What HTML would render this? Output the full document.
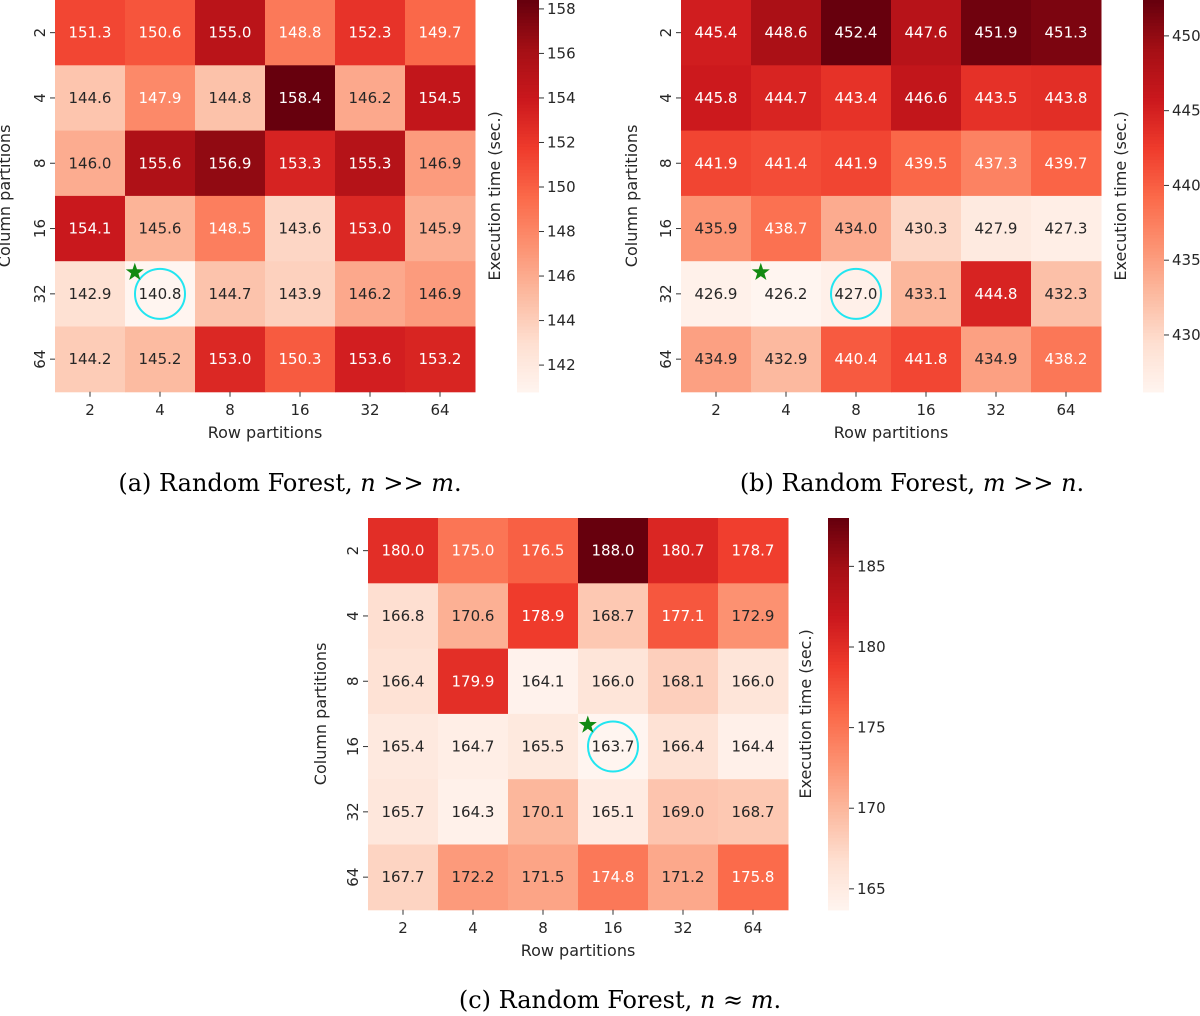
<!DOCTYPE html>
<html><head><meta charset="utf-8">
<style>
html,body{margin:0;padding:0;background:#fff;}
svg{display:block;font-family:"DejaVu Sans","Liberation Sans",sans-serif;}
.cap{font-family:"DejaVu Serif","Liberation Serif",serif;font-size:24px;}
</style></head>
<body>
<svg id="fig" width="1200" height="1016" viewBox="0 0 1200 1016" xmlns="http://www.w3.org/2000/svg">
<text class="cap" x="290" y="491" text-anchor="middle">(a)  Random Forest, <tspan font-style="italic">n</tspan> &gt;&gt; <tspan font-style="italic">m</tspan>.</text>
<text class="cap" x="912" y="491" text-anchor="middle">(b)  Random Forest, <tspan font-style="italic">m</tspan> &gt;&gt; <tspan font-style="italic">n</tspan>.</text>
<text class="cap" x="620" y="1008" text-anchor="middle">(c)  Random Forest, <tspan font-style="italic">n</tspan> ≈ <tspan font-style="italic">m</tspan>.</text>
</svg>
<script>
const rowLabels = ["2","4","8","16","32","64"];
const colLabels = ["2","4","8","16","32","64"];
const valuesA = [
 [151.3,150.6,155.0,148.8,152.3,149.7],
 [144.6,147.9,144.8,158.4,146.2,154.5],
 [146.0,155.6,156.9,153.3,155.3,146.9],
 [154.1,145.6,148.5,143.6,153.0,145.9],
 [142.9,140.8,144.7,143.9,146.2,146.9],
 [144.2,145.2,153.0,150.3,153.6,153.2]];
const valuesB = [
 [445.4,448.6,452.4,447.6,451.9,451.3],
 [445.8,444.7,443.4,446.6,443.5,443.8],
 [441.9,441.4,441.9,439.5,437.3,439.7],
 [435.9,438.7,434.0,430.3,427.9,427.3],
 [426.9,426.2,427.0,433.1,444.8,432.3],
 [434.9,432.9,440.4,441.8,434.9,438.2]];
const valuesC = [
 [180.0,175.0,176.5,188.0,180.7,178.7],
 [166.8,170.6,178.9,168.7,177.1,172.9],
 [166.4,179.9,164.1,166.0,168.1,166.0],
 [165.4,164.7,165.5,163.7,166.4,164.4],
 [165.7,164.3,170.1,165.1,169.0,168.7],
 [167.7,172.2,171.5,174.8,171.2,175.8]];
const ticksA = [142,144,146,148,150,152,154,156,158];
const ticksB = [430,435,440,445,450];
const ticksC = [165,170,175,180,185];
const starA = [4,1], circleA = [4,1];
const starB = [4,1], circleB = [4,2];
const starC = [3,3], circleC = [3,3];

const NS="http://www.w3.org/2000/svg";
const svg=document.getElementById('fig');
const reds=[[255,245,240],[254,224,210],[252,187,161],[252,146,114],[251,106,74],[239,59,44],[203,24,29],[165,15,21],[103,0,13]];
function cmap(t){t=Math.max(0,Math.min(1,t));const f=t*8,i=Math.min(7,Math.floor(f)),r=f-i;
 return reds[i].map((c,k)=>Math.round(c+(reds[i+1][k]-c)*r));}
function lum(c){const l=c.map(v=>{v/=255;return v<=0.03928?v/12.92:Math.pow((v+0.055)/1.055,2.4)});return 0.2126*l[0]+0.7152*l[1]+0.0722*l[2];}
function el(tag,attrs,parent){const e=document.createElementNS(NS,tag);for(const k in attrs)e.setAttribute(k,attrs[k]);(parent||svg).appendChild(e);return e;}

function heatmap(key,vals,ticks,x0,y0,cw,ch,cbx,cbw,star,circ,ylabX,xlabY){
 const g=el('g',{});
 
 
 let mn=Infinity,mx=-Infinity;vals.forEach(r=>r.forEach(v=>{mn=Math.min(mn,v);mx=Math.max(mx,v);}));
 const H=ch*vals.length;
 const xs=j=>x0+j*cw, ys=i=>y0+i*ch;
 vals.forEach((row,i)=>row.forEach((v,j)=>{
  const c=cmap((v-mn)/(mx-mn));
  const r=el('rect',{x:xs(j),y:ys(i),width:cw+0.5,height:ch+0.5,fill:'rgb('+c.join(',')+')'},g);
  
  
  const t=el('text',{x:xs(j)+cw/2,y:ys(i)+ch/2+5,'text-anchor':'middle','font-size':15,fill:lum(c)>0.408?'#262626':'#fff'},g);
  t.textContent=v.toFixed(1);
  
  
 }));
 rowLabels.forEach((l,i)=>{
  const cy=ys(i)+ch/2;
  el('line',{x1:x0-5,x2:x0,y1:cy,y2:cy,stroke:'#333'},g);
  const t=el('text',{x:0,y:0,'text-anchor':'middle','font-size':15,fill:'#262626',transform:`translate(${x0-10},${cy}) rotate(-90)`},g);
  t.textContent=l;
  
  
 });
 colLabels.forEach((l,j)=>{
  const cx=xs(j)+cw/2;
  el('line',{x1:cx,x2:cx,y1:y0+H,y2:y0+H+5,stroke:'#333'},g);
  const t=el('text',{x:cx,y:y0+H+23,'text-anchor':'middle','font-size':15,fill:'#262626'},g);
  t.textContent=l;
  
  
 });
 const xl=el('text',{x:x0+3*cw,y:xlabY,'text-anchor':'middle','font-size':16,fill:'#262626'},g);
 xl.textContent='Row partitions';
 
 
 const yl=el('text',{x:0,y:0,'text-anchor':'middle','font-size':16,fill:'#262626',transform:`translate(${ylabX},${y0+H/2}) rotate(-90)`},g);
 yl.textContent='Column partitions';
 
 
 const steps=120;
 for(let k=0;k<steps;k++){
  const c=cmap(1-k/steps);
  el('rect',{x:cbx,y:y0+k*H/steps,width:cbw,height:H/steps+0.6,fill:'rgb('+c.join(',')+')'},g);
 }
 const cy=v=>y0+H*(mx-v)/(mx-mn);
 ticks.forEach(tv=>{
  const y=cy(tv);
  el('line',{x1:cbx+cbw,x2:cbx+cbw+5,y1:y,y2:y,stroke:'#333'},g);
  const t=el('text',{x:cbx+cbw+8,y:y+5,'font-size':15,fill:'#262626'},g);
  t.textContent=tv;
  
  
 });
 const cl=el('text',{x:0,y:0,'text-anchor':'middle','font-size':16,fill:'#262626',transform:`translate(${cbx-17},${y0+H/2}) rotate(-90)`},g);
 cl.textContent='Execution time (sec.)';
 
 
 const ci=el('circle',{cx:xs(circ[1])+cw/2,cy:ys(circ[0])+ch/2,r:25,fill:'none',stroke:'#22e5f0','stroke-width':2},g);
 
 
 const sx=xs(star[1])+cw*0.14, sy=ys(star[0])+ch*0.17;
 let pts=[];for(let k=0;k<10;k++){const a=-Math.PI/2+k*Math.PI/5,r=k%2?3.8:9.5;pts.push((sx+r*Math.cos(a)).toFixed(1)+','+(sy+r*Math.sin(a)).toFixed(1));}
 const st=el('polygon',{points:pts.join(' '),fill:'#128a12'},g);
 
 
}
heatmap('a',valuesA,ticksA,55,0,70,65.3,517,22,starA,circleA,10,438);
heatmap('b',valuesB,ticksB,681,0,70,65.3,1143,21,starB,circleB,637,438);
heatmap('c',valuesC,ticksC,368,518,70,65.3,828,21,starC,circleC,326,956);
</script>
</body></html>
